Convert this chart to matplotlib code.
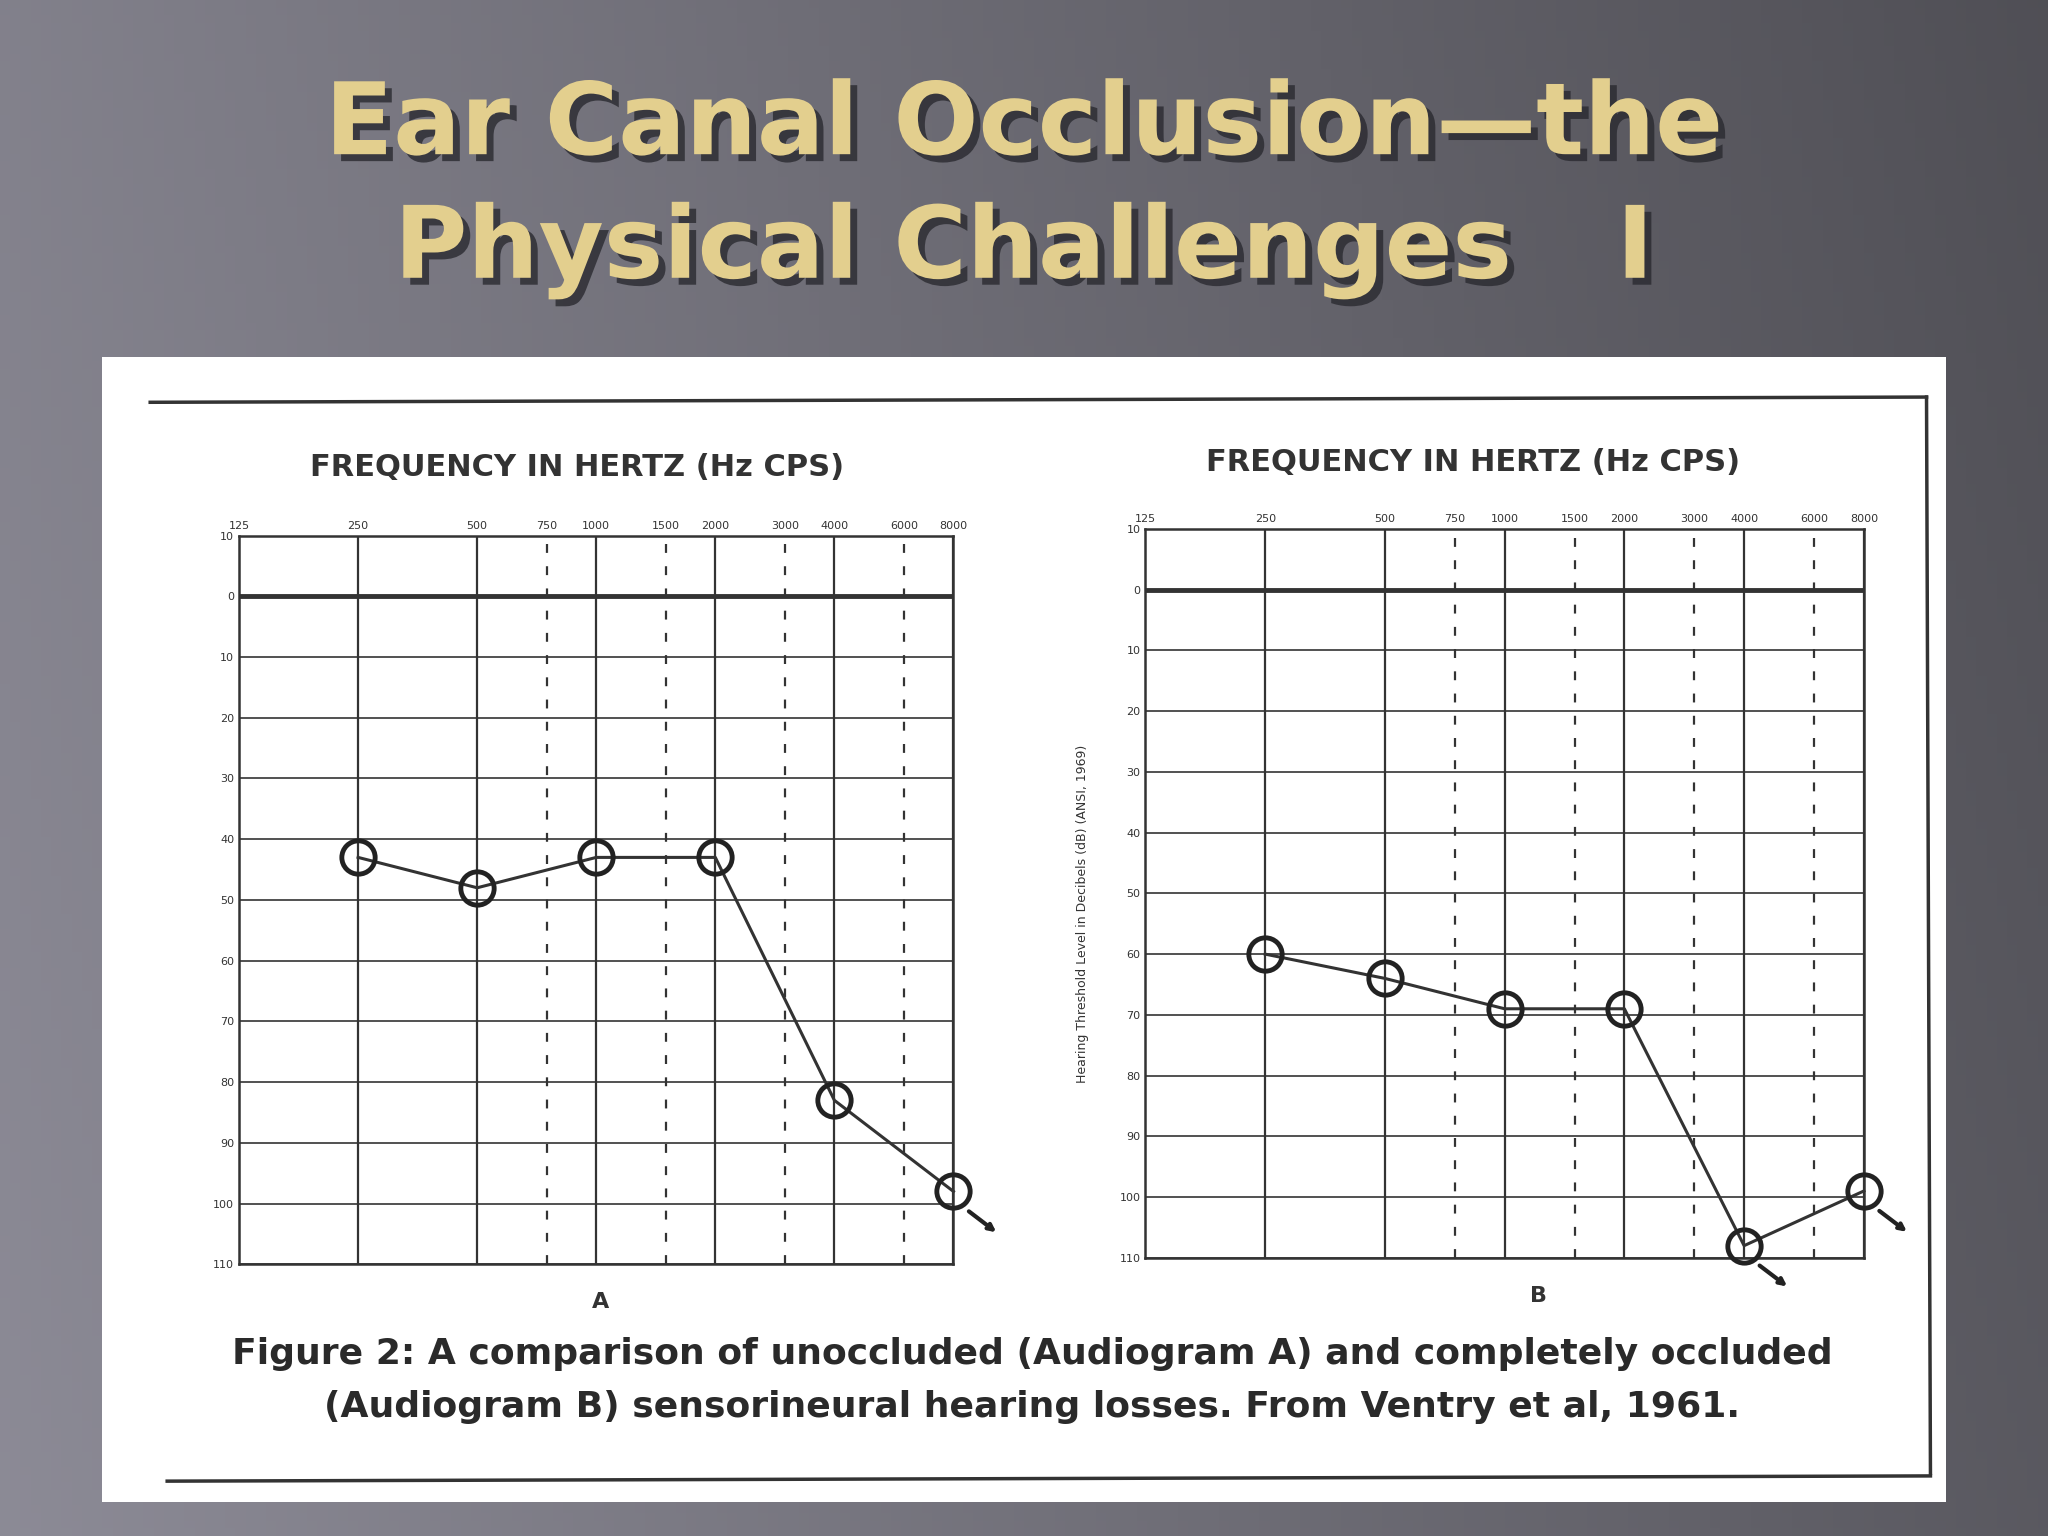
import numpy as np
import matplotlib
matplotlib.use('Agg')
import matplotlib.pyplot as plt
import matplotlib.patheffects as pe

# ---------------- data ----------------
freqs = [250, 500, 1000, 2000, 4000, 8000]
thr_a = [43, 48, 43, 43, 83, 98]
thr_b = [60, 64, 69, 69, 108, 99]
noresp_a = [8000]
noresp_b = [4000, 8000]
main_ticks = [125, 250, 500, 1000, 2000, 4000, 8000]
mid_ticks = [750, 1500, 3000, 6000]
db_ticks = list(range(-10, 111, 10))
db_labels = ['10'] + [str(v) for v in range(0, 111, 10)]

W, H = 1568, 1176
fig = plt.figure(figsize=(20.48, 15.36), dpi=100)

# background gradient
bg = fig.add_axes([0, 0, 1, 1])
gx, gy = np.meshgrid(np.linspace(0, 1, 200), np.linspace(0, 1, 200))
g = 0.56 - 0.2 * gx - 0.04 * gy
bg.imshow(np.dstack([g * 0.98, g * 0.97, g * 1.05]).clip(0, 1), extent=[0, 1, 0, 1],
          aspect='auto', origin='lower')
bg.set_axis_off()

def fx(px):
    return px / W

def fy(py):
    return 1 - py / H

# title
for i, line in enumerate(['Ear Canal Occlusion\u2014the', 'Physical Challenges   I']):
    fig.text(0.5, fy(97 + i * 95), line, ha='center', va='center', fontsize=72,
             fontweight='bold', color='#e3cf8e', family='DejaVu Sans',
             path_effects=[pe.withSimplePatchShadow(offset=(5, -5), shadow_rgbFace='#2a2a30', alpha=0.8)])

# white panel
panel = fig.add_axes([fx(78), fy(1150), fx(1490 - 78), (1150 - 273) / H])
panel.set_xlim(78, 1490)
panel.set_ylim(1150, 273)
panel.set_facecolor('white')
panel.set_xticks([])
panel.set_yticks([])
for s in panel.spines.values():
    s.set_visible(False)
panel.plot([115, 1475], [308, 304], color='#333', lw=2.5)
panel.plot([1475, 1478], [304, 1128], color='#333', lw=2.5)
panel.plot([128, 1478], [1134, 1130], color='#333', lw=2.5)
panel.text(460, 997, 'A', ha='center', va='center', fontsize=16, fontweight='bold', color='#333')
panel.text(1178, 992, 'B', ha='center', va='center', fontsize=16, fontweight='bold', color='#333')
panel.text(790, 1037, 'Figure 2: A comparison of unoccluded (Audiogram A) and completely occluded',
           ha='center', va='center', fontsize=26, fontweight='bold', color='#2a2a2a')
panel.text(790, 1077, '(Audiogram B) sensorineural hearing losses. From Ventry et al, 1961.',
           ha='center', va='center', fontsize=26, fontweight='bold', color='#2a2a2a')
panel.text(442, 358, 'FREQUENCY IN HERTZ (Hz CPS)', ha='center', va='center', fontsize=22,
           fontweight='bold', color='#333')
panel.text(1128, 354, 'FREQUENCY IN HERTZ (Hz CPS)', ha='center', va='center', fontsize=22,
           fontweight='bold', color='#333')
panel.text(829, 700, 'Hearing Threshold Level in Decibels (dB) (ANSI, 1969)', rotation=90,
           ha='center', va='center', fontsize=9, color='#333')

def audiogram(rect, thr, noresp):
    ax = fig.add_axes(rect)
    ax.set_xscale('log', base=2)
    ax.set_xlim(125, 8000)
    ax.set_ylim(110, -10)
    for f in main_ticks[1:]:
        ax.axvline(f, color='#333', lw=1.6)
    for f in mid_ticks:
        ax.axvline(f, color='#333', lw=1.6, ls=(0, (4, 6)))
    for d in db_ticks:
        ax.axhline(d, color='#333', lw=1.2)
    ax.axhline(0, color='#333', lw=3.5)
    ax.plot(freqs, thr, color='#333', lw=2.2, marker='o', ms=24, mfc='none',
            mec='#222', mew=3.5, zorder=5, clip_on=False)
    for f in noresp:
        y = thr[freqs.index(f)]
        ax.annotate('', xy=(f * 1.3, y + 7), xytext=(f * 1.08, y + 3),
                    arrowprops=dict(arrowstyle='->', lw=3, color='#222'),
                    annotation_clip=False)
    ax.set_yticks(db_ticks)
    ax.set_yticklabels(db_labels, fontsize=8, color='#333')
    ax.set_xticks(main_ticks + mid_ticks)
    ax.set_xticklabels([str(v) for v in main_ticks] + [str(v) for v in mid_ticks], fontsize=8,
                       color='#333')
    ax.xaxis.set_minor_locator(matplotlib.ticker.NullLocator())
    ax.tick_params(axis='x', top=True, bottom=False, labeltop=True, labelbottom=False, length=0)
    ax.tick_params(axis='y', length=0)
    for s in ax.spines.values():
        s.set_color('#333')
        s.set_linewidth(1.8)
    ax.set_facecolor('white')
    return ax

audiogram([fx(183), fy(968), fx(547), 558 / H], thr_a, noresp_a)
audiogram([fx(877), fy(963), fx(550), 558 / H], thr_b, noresp_b)

fig.savefig('out.png', dpi=100)
